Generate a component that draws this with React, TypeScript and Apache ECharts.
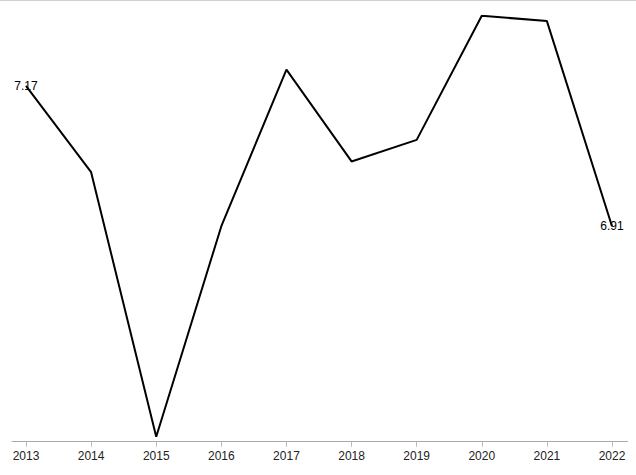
import React, { useEffect, useRef } from "react";
import * as echarts from "echarts";

const years = [2013, 2014, 2015, 2016, 2017, 2018, 2019, 2020, 2021, 2022];
const values = [7.17, 7.01, 6.52, 6.91, 7.2, 7.03, 7.07, 7.3, 7.29, 6.91];
const labeledIndices = [0, 9];

export default function App() {
  const ref = useRef<HTMLDivElement>(null);
  useEffect(() => {
    if (!ref.current) return;
    const chart = echarts.init(ref.current, undefined, { renderer: "svg" });
    const data = years.map((y, i) => ({
      value: [y, values[i]],
      label: {
        show: labeledIndices.includes(i),
        position: "inside",
        formatter: () => values[i].toFixed(2),
        color: "#000",
        fontSize: 12,
        fontFamily: "Liberation Sans, Arial, sans-serif",
      },
    }));
    chart.setOption({
      animation: false,
      grid: { left: 12, right: 8.3, top: 15.7, bottom: 38.3 },
      xAxis: {
        type: "value",
        min: 2012.785,
        max: 2022.241,
        offset: 5,
        splitLine: { show: false },
        axisLine: { show: true, lineStyle: { color: "#aaa", width: 1 } },
        axisTick: {
          show: true,
          length: 5,
          customValues: years,
          lineStyle: { color: "#bbb" },
        },
        axisLabel: {
          customValues: years,
          formatter: (v: number) => String(v),
          color: "#222",
          fontSize: 12,
          fontFamily: "Liberation Sans, Arial, sans-serif",
          margin: 8,
        },
      },
      yAxis: {
        type: "value",
        min: "dataMin",
        max: "dataMax",
        show: false,
        splitLine: { show: false },
      },
      graphic: [
        {
          type: "line",
          shape: { x1: 0, y1: 0.5, x2: 636, y2: 0.5 },
          style: { stroke: "#d0d0d0", lineWidth: 1 },
        },
      ],
      series: [
        {
          type: "line",
          data,
          showSymbol: true,
          symbol: "circle",
          symbolSize: 1,
          lineStyle: { color: "#000", width: 2 },
          itemStyle: { color: "rgba(0,0,0,0)" },
          z: 2,
        },
      ],
    });
    return () => chart.dispose();
  }, []);
  return (
    <div
      ref={ref}
      style={{ position: "absolute", left: 0, top: 0, width: 636, height: 475 }}
    />
  );
}
